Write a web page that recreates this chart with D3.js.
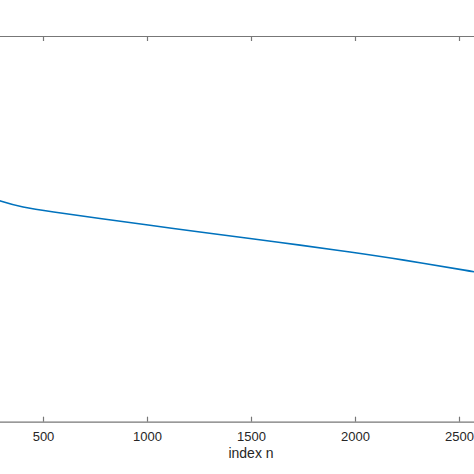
<!DOCTYPE html>
<html>
<head>
<meta charset="utf-8">
<script src="https://cdn.jsdelivr.net/npm/d3@7"></script>
<style>
  body { margin: 0; background: #fff; }
  text { font-family: "Liberation Sans", Arial, sans-serif; }
</style>
</head>
<body>
<svg id="chart"></svg>
<script>
// values (y in relative axis units 0..1)
const indexN = [200, 293, 400, 534, 774, 1014, 1255, 1495, 1736, 1976, 2216, 2572, 2650];
const values = [0.590, 0.572, 0.556, 0.545, 0.527, 0.509, 0.492, 0.475, 0.458, 0.440, 0.421, 0.389, 0.381];
const xTicks = [0, 500, 1000, 1500, 2000, 2500, 3000];

const width = 474, height = 474;
const margin = { top: 36, bottom: 52.3 };

const svg = d3.select('#chart')
    .attr('width', width)
    .attr('height', height);

const xScale = d3.scaleLinear()
    .domain([0, 3000])
    .range([-61, -61 + 624]);

const yScale = d3.scaleLinear()
    .domain([0, 1])
    .range([height - margin.bottom, margin.top]);

const axisColor = '#777';

// bottom axis, ticks pointing inward
const xAxisG = svg.append('g')
    .attr('transform', `translate(0, ${yScale(0)})`)
    .call(d3.axisBottom(xScale).tickValues(xTicks).tickFormat(d3.format('d'))
        .tickSizeInner(-5).tickSizeOuter(0).tickPadding(10));
xAxisG.select('.domain').attr('stroke', axisColor).attr('stroke-width', 1.2);
xAxisG.selectAll('.tick line').attr('stroke', axisColor).attr('stroke-width', 1.2);
xAxisG.selectAll('.tick text').attr('font-size', 13).attr('fill', '#262626')
    .attr('font-family', '"Liberation Sans", Arial, sans-serif');

xAxisG.append('text')
    .attr('x', xScale(1500))
    .attr('y', 36)
    .attr('fill', '#262626')
    .attr('font-size', 14)
    .attr('text-anchor', 'middle')
    .text('index n');

// top axis, no labels
const topG = svg.append('g')
    .attr('transform', `translate(0, ${yScale(1)})`)
    .call(d3.axisTop(xScale).tickValues(xTicks).tickSizeInner(-5).tickSizeOuter(0).tickFormat(''));
topG.select('.domain').attr('stroke', axisColor).attr('stroke-width', 1.2);
topG.selectAll('.tick line').attr('stroke', axisColor).attr('stroke-width', 1.2);

const line = d3.line()
    .x((d, i) => xScale(indexN[i]))
    .y(d => yScale(d))
    .curve(d3.curveBasis);

svg.append('path')
    .datum(values)
    .attr('fill', 'none')
    .attr('stroke', '#0072BD')
    .attr('stroke-width', 1.6)
    .attr('d', line);
</script>
</body>
</html>
